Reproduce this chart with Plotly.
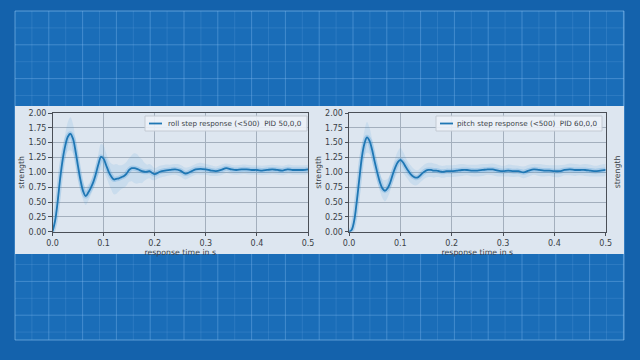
import plotly.graph_objects as go

# ---------------- data ----------------
t = [0.000, 0.005, 0.010, 0.015, 0.020, 0.025, 0.030, 0.035, 0.040, 0.045,
     0.050, 0.055, 0.060, 0.065, 0.070, 0.075, 0.080, 0.085, 0.090, 0.095,
     0.100, 0.105, 0.110, 0.115, 0.120, 0.125, 0.130, 0.135, 0.140, 0.145,
     0.150, 0.155, 0.160, 0.165, 0.170, 0.175, 0.180, 0.185, 0.190, 0.195,
     0.200, 0.21, 0.22, 0.23, 0.24, 0.25, 0.26, 0.27, 0.28, 0.29,
     0.30, 0.31, 0.32, 0.33, 0.34, 0.35, 0.36, 0.37, 0.38, 0.39,
     0.40, 0.41, 0.42, 0.43, 0.44, 0.45, 0.46, 0.47, 0.48, 0.49, 0.50]

roll = [0.00, 0.18, 0.50, 0.90, 1.22, 1.45, 1.60, 1.65, 1.57, 1.36,
        1.10, 0.86, 0.68, 0.60, 0.66, 0.74, 0.84, 0.98, 1.14, 1.26,
        1.23, 1.12, 1.01, 0.93, 0.88, 0.89, 0.90, 0.92, 0.94, 0.98,
        1.04, 1.07, 1.07, 1.06, 1.04, 1.02, 1.01, 1.01, 1.02, 0.99,
        0.97, 1.01, 1.03, 1.04, 1.05, 1.03, 0.98, 1.01, 1.05, 1.06,
        1.05, 1.03, 1.02, 1.04, 1.07, 1.05, 1.04, 1.05, 1.05, 1.04,
        1.04, 1.03, 1.04, 1.05, 1.04, 1.03, 1.05, 1.04, 1.04, 1.04, 1.05]

roll_spread = [0.00, 0.05, 0.10, 0.15, 0.18, 0.20, 0.25, 0.28, 0.25, 0.20,
               0.18, 0.15, 0.15, 0.15, 0.14, 0.12, 0.12, 0.14, 0.18, 0.22,
               0.22, 0.20, 0.20, 0.22, 0.25, 0.25, 0.22, 0.20, 0.20, 0.20,
               0.20, 0.22, 0.25, 0.25, 0.22, 0.20, 0.15, 0.12, 0.12, 0.12,
               0.10, 0.10, 0.10, 0.09, 0.09, 0.10, 0.10, 0.09, 0.09, 0.10,
               0.09, 0.09, 0.08, 0.09, 0.08, 0.08, 0.08, 0.08, 0.08, 0.08,
               0.08, 0.08, 0.08, 0.08, 0.08, 0.08, 0.08, 0.08, 0.08, 0.08, 0.08]

pitch = [0.00, 0.03, 0.18, 0.50, 0.88, 1.25, 1.48, 1.59, 1.53, 1.38,
         1.18, 1.00, 0.84, 0.73, 0.69, 0.73, 0.82, 0.96, 1.08, 1.17,
         1.21, 1.17, 1.10, 1.03, 0.97, 0.93, 0.91, 0.92, 0.96, 1.00,
         1.03, 1.04, 1.04, 1.03, 1.03, 1.02, 1.01, 1.01, 1.02, 1.02,
         1.02, 1.03, 1.04, 1.04, 1.03, 1.03, 1.04, 1.05, 1.05, 1.03,
         1.02, 1.03, 1.02, 1.02, 1.00, 1.03, 1.05, 1.04, 1.03, 1.03,
         1.02, 1.02, 1.04, 1.05, 1.04, 1.04, 1.04, 1.03, 1.02, 1.03, 1.04]

pitch_spread = [0.00, 0.03, 0.08, 0.12, 0.15, 0.18, 0.22, 0.26, 0.22, 0.18,
                0.15, 0.15, 0.15, 0.16, 0.18, 0.16, 0.14, 0.14, 0.16, 0.18,
                0.20, 0.18, 0.16, 0.15, 0.15, 0.14, 0.13, 0.12, 0.12, 0.12,
                0.12, 0.12, 0.12, 0.12, 0.11, 0.10, 0.10, 0.10, 0.10, 0.10,
                0.10, 0.10, 0.10, 0.09, 0.10, 0.10, 0.10, 0.09, 0.10, 0.10,
                0.09, 0.10, 0.10, 0.09, 0.10, 0.10, 0.09, 0.10, 0.10, 0.09,
                0.10, 0.10, 0.09, 0.10, 0.10, 0.09, 0.10, 0.10, 0.09, 0.10, 0.10]

x_ticks = [0.0, 0.1, 0.2, 0.3, 0.4, 0.5]
y_ticks = [0.00, 0.25, 0.50, 0.75, 1.00, 1.25, 1.50, 1.75, 2.00]

roll_label = "roll step response (<500)\u00a0\u00a0PID 50,0,0"
pitch_label = "pitch step response (<500)\u00a0\u00a0PID 60,0,0"

# ---------------- figure ----------------
W, H = 640, 360
LINE = "#1f77b4"
FONT = "DejaVu Sans"
TXT = "#3a3f47"

fig = go.Figure()


def add_panel(xa, ya, y, spread, label):
    upper = [a + b for a, b in zip(y, spread)]
    lower = [a - b for a, b in zip(y, spread)]
    fig.add_trace(go.Scatter(x=t, y=lower, mode="lines", line=dict(width=0, shape="spline"),
                             showlegend=False, hoverinfo="skip", xaxis=xa, yaxis=ya))
    fig.add_trace(go.Scatter(x=t, y=upper, mode="lines", line=dict(width=0, shape="spline"),
                             fill="tonexty", fillcolor="rgba(70,155,220,0.13)",
                             showlegend=False, hoverinfo="skip", xaxis=xa, yaxis=ya))
    fig.add_trace(go.Scatter(x=t, y=y, mode="lines",
                             line=dict(color="rgba(40,140,215,0.22)", width=5, shape="spline"),
                             showlegend=False, hoverinfo="skip", xaxis=xa, yaxis=ya))
    fig.add_trace(go.Scatter(x=t, y=y, mode="lines", name=label,
                             line=dict(color=LINE, width=1.8, shape="spline"),
                             xaxis=xa, yaxis=ya, showlegend=False))


add_panel("x", "y", roll, roll_spread, roll_label)
add_panel("x2", "y2", pitch, pitch_spread, pitch_label)


def px(x):
    return x / W


def py(y):
    return 1 - y / H


# blueprint background shapes
shapes = []
shapes.append(dict(type="rect", xref="paper", yref="paper", x0=px(15), x1=px(624), y0=py(340), y1=py(11),
                   fillcolor="#1a6db8", line=dict(color="rgba(150,200,245,0.55)", width=1), layer="below"))
step = 33.8
k = 0
xv = 15 + step / 2
while xv < 624:
    col = "rgba(130,185,240,0.40)" if k % 2 == 1 else "rgba(130,185,240,0.18)"
    shapes.append(dict(type="line", xref="paper", yref="paper", x0=px(xv), x1=px(xv), y0=py(340), y1=py(11),
                       line=dict(color=col, width=1), layer="below"))
    xv += step / 2
    k += 1
k = 0
yv = 11 + step / 2
while yv < 340:
    col = "rgba(130,185,240,0.40)" if k % 2 == 1 else "rgba(130,185,240,0.18)"
    shapes.append(dict(type="line", xref="paper", yref="paper", x0=px(15), x1=px(624), y0=py(yv), y1=py(yv),
                       line=dict(color=col, width=1), layer="below"))
    yv += step / 2
    k += 1
# light panel
shapes.append(dict(type="rect", xref="paper", yref="paper", x0=px(15), x1=px(624), y0=py(254), y1=py(106),
                   fillcolor="#dde6f0", line=dict(width=0), layer="below"))

annotations = []
# manual legend boxes (matplotlib-like, compact)
for (x0, x1, label) in [(145, 307, roll_label), (436, 602, pitch_label)]:
    shapes.append(dict(type="rect", xref="paper", yref="paper", x0=px(x0), x1=px(x1), y0=py(131), y1=py(116),
                       fillcolor="rgba(236,241,247,0.9)", line=dict(color="#c3cad3", width=1), layer="above"))
    shapes.append(dict(type="line", xref="paper", yref="paper", x0=px(x0 + 4), x1=px(x0 + 17),
                       y0=py(123.5), y1=py(123.5), line=dict(color=LINE, width=1.8), layer="above"))
    annotations.append(dict(text=label, xref="paper", yref="paper", x=px(x1 - 3), y=py(123.5),
                            xanchor="right", yanchor="middle", showarrow=False,
                            font=dict(family=FONT, size=7.2, color=TXT)))

axis_common = dict(showline=True, mirror=True, linecolor="#4a4f57", linewidth=1,
                   ticks="outside", ticklen=3.5, tickcolor="#4a4f57", automargin=False,
                   showgrid=True, gridcolor="#a3afbd", gridwidth=1, zeroline=False,
                   tickfont=dict(family=FONT, size=8, color=TXT))

xdom1 = [px(52.5), px(308)]
xdom2 = [px(349), px(605.7)]
ydom = [py(231.7), py(113)]

xa = dict(axis_common, range=[0, 0.5], tickvals=x_ticks, tickformat=".1f",
          title=dict(text="response time in s", font=dict(family=FONT, size=7.8, color=TXT), standoff=0))
ya = dict(axis_common, range=[0, 2], tickvals=y_ticks, tickformat=".2f",
          title=dict(text="strength", font=dict(family=FONT, size=7.8, color=TXT), standoff=2))

annotations.append(dict(text="strength", textangle=-90, xref="paper", yref="paper",
                        x=px(617), y=(ydom[0] + ydom[1]) / 2, xanchor="center", yanchor="middle",
                        showarrow=False, font=dict(family=FONT, size=7.8, color=TXT)))

fig.update_layout(
    width=W, height=H, margin=dict(l=0, r=0, t=0, b=0, autoexpand=False),
    paper_bgcolor="#1462ac", plot_bgcolor="#e3eaf3",
    showlegend=False,
    shapes=shapes,
    xaxis=dict(xa, domain=xdom1, anchor="y"),
    yaxis=dict(ya, domain=ydom, anchor="x"),
    xaxis2=dict(xa, domain=xdom2, anchor="y2"),
    yaxis2=dict(ya, domain=ydom, anchor="x2"),
    annotations=annotations,
)

fig.write_html("out.html")
